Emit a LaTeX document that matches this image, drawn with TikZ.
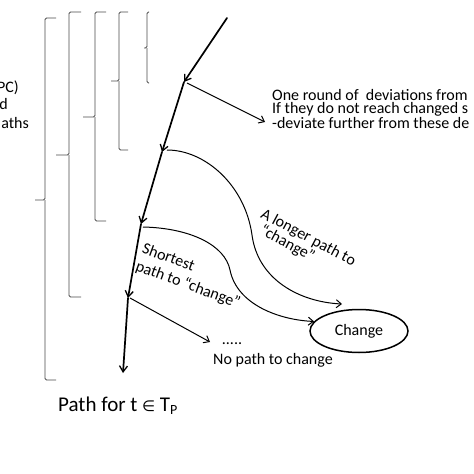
\documentclass[tikz,border=0pt]{standalone}
\usepackage{fontspec}
\setmainfont{Carlito}
\usetikzlibrary{arrows.meta,shapes.geometric}
\begin{document}
\begin{tikzpicture}[x=1pt,y=-1pt,
  mainline/.style={line width=1.7pt, line cap=round, -{Straight Barb[length=6pt,width=8pt,line width=1.3pt]}},
  branch/.style={line width=1pt, -{Straight Barb[length=5pt,width=8pt]}},
  brk/.style={line width=0.8pt, draw=black!70, rounded corners=1.5pt},
  lbl/.style={font=\fontsize{16}{13.5}\selectfont, inner sep=0pt, align=left},
  rlbl/.style={font=\fontsize{16}{15}\selectfont, inner sep=0pt, align=left}]
\useasboundingbox (0,0) rectangle (474,474);
\fill[white] (0,0) rectangle (474,474);
\begin{scope}
\clip (0,0) rectangle (474,474);
% brackets
\newcommand{\brkt}[6]{%
  \draw[brk] (#1+#5,#2) -- (#1,#2) -- (#1,#3) -- (#1-#6,#3);
  \draw[brk] (#1,#3) -- (#1,#4) -- (#1+#5,#4);}
\brkt{45}{18}{200}{380}{11}{10}
\brkt{69}{12}{155}{297}{12}{13}
\brkt{95}{12}{117}{221}{11}{12}
\brkt{119}{12}{81}{150}{9}{8}
\brkt{147}{12}{48}{83}{2}{3}
% left clipped text
\node[lbl, anchor=base east] (l1) at (19,92) {PC)};
\node[lbl, anchor=base east] (l2) at (8,109) {d};
\node[lbl, anchor=base east] (l3) at (29,128) {aths};
% main path
\coordinate (p0) at (227,18);
\coordinate (p1) at (184,82);
\coordinate (p2) at (162,152);
\coordinate (p3) at (141,224);
\coordinate (p4) at (128,298);
\coordinate (p5) at (123,373);
\draw[mainline] (p0) -- (p1);
\draw[mainline] (p1) -- (p2);
\draw[mainline] (p2) -- (p3);
\draw[mainline] (p3) -- (p4);
\draw[mainline] (p4) -- (p5);
% deviation text
\node[lbl, anchor=north west] (dev) at (272,89) {One round of~ deviations from\\If they do not reach changed s\\-deviate further from these de};
\coordinate (b1s) at (187,83);
\coordinate (b1e) at (265,122);
\draw[branch] (b1s) -- (b1e);
% change ellipse
\node[ellipse, draw, line width=1.5pt, minimum width=98pt, minimum height=43pt, inner sep=0pt,
  font=\fontsize{16}{17}\selectfont] (change) at (359,331) {Change};
% longer path
\coordinate (c1s) at (167,150);
\coordinate (c1e) at (342,304);
\draw[branch] (c1s) .. controls (205,150) and (245,185) .. (252,235)
  .. controls (258,280) and (300,302) .. (c1e);
% shortest path
\coordinate (c2s) at (143,227);
\draw[branch] (c2s) .. controls (190,228) and (225,245) .. (230,270)
  .. controls (237,305) and (280,320) .. (change.168);
% labels on curves
\node[rlbl, rotate=-28, anchor=north west] (lng) at (265,207) {A longer path to\\\hspace*{7pt}“change”};
\node[rlbl, rotate=-20, anchor=north west, font=\fontsize{16}{19}\selectfont] (sht) at (145,242) {Shortest\\path to “change”};
% no path branch
\coordinate (b4s) at (130,298);
\coordinate (b4e) at (210,342);
\draw[branch] (b4s) -- (b4e);
\node[lbl, anchor=base] (dots) at (232,344) {.....};
\node[lbl, anchor=base] (nop) at (273,364) {No path to change};
% bottom caption
\node[font=\fontsize{21}{24}\selectfont, anchor=base west, inner sep=0pt] (cap) at (58,411)
  {Path for t {\fontspec{DejaVu Sans}\fontsize{15}{17}\selectfont ∈} T\raisebox{-0.35ex}{\fontsize{14}{16}\selectfont P}};
\end{scope}
\end{tikzpicture}
\end{document}
